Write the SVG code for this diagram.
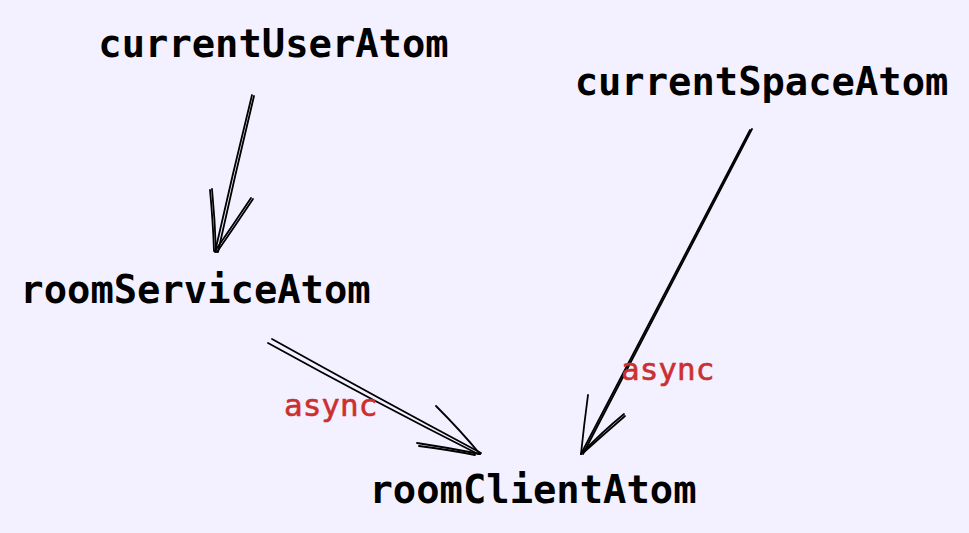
<svg xmlns="http://www.w3.org/2000/svg" width="969" height="533" viewBox="0 0 969 533">
<style>
.node{font-family:"DejaVu Sans Mono","Liberation Mono",monospace;font-weight:bold;font-size:38.8px;fill:#000;text-anchor:middle}
.lbl{font-family:"DejaVu Sans Mono","Liberation Mono",monospace;font-size:31px;fill:#cc2f2f;stroke:#cc2f2f;stroke-width:0.6}
.s{fill:none;stroke:#000;stroke-width:1.8;stroke-linecap:round}
</style>
<rect width="969" height="533" fill="#f3f0ff"/>
<g id="currentUserAtom"><text class="node" x="273.5" y="57">currentUserAtom</text></g>
<g id="currentSpaceAtom"><text class="node" x="761.5" y="95">currentSpaceAtom</text></g>
<g id="roomServiceAtom"><text class="node" x="195.5" y="303">roomServiceAtom</text></g>
<g id="roomClientAtom"><text class="node" x="533" y="503">roomClientAtom</text></g>
<g id="connectors">
  <g id="e1">
    <path class="s" d="M252,95 Q233,172 215,252"/>
    <path class="s" d="M254,96 Q235,175 218,252"/>
    <path class="s" d="M210,190 Q213,222 214,251"/>
    <path class="s" d="M212,189 Q215,220 216,252"/>
    <path class="s" d="M251,198 Q233,225 215,251"/>
    <path class="s" d="M253,199 Q235,226 217,252"/>
  </g>
  <g id="e2">
    <path class="s" d="M268,343 Q375,402 478,454"/>
    <path class="s" d="M272,339 Q378,398 481,453"/>
    <path class="s" d="M436,406 Q460,430 480,454"/>
    <path class="s" d="M417,443 Q450,448 480,454"/>
    <path class="s" d="M419,446 Q450,450 475,455"/>
    <text class="lbl" x="284" y="416">async</text>
  </g>
  <g id="e3">
    <path class="s" d="M750,130 Q665,292 581,454"/>
    <path class="s" d="M752,129 Q667,292 583,454"/>
    <path class="s" d="M588,395 Q584,425 581,454"/>
    <path class="s" d="M624,414 Q601,433 581,454"/>
    <path class="s" d="M625,416 Q603,435 583,453"/>
    <text class="lbl" x="621" y="380">async</text>
  </g>
</g>
</svg>
